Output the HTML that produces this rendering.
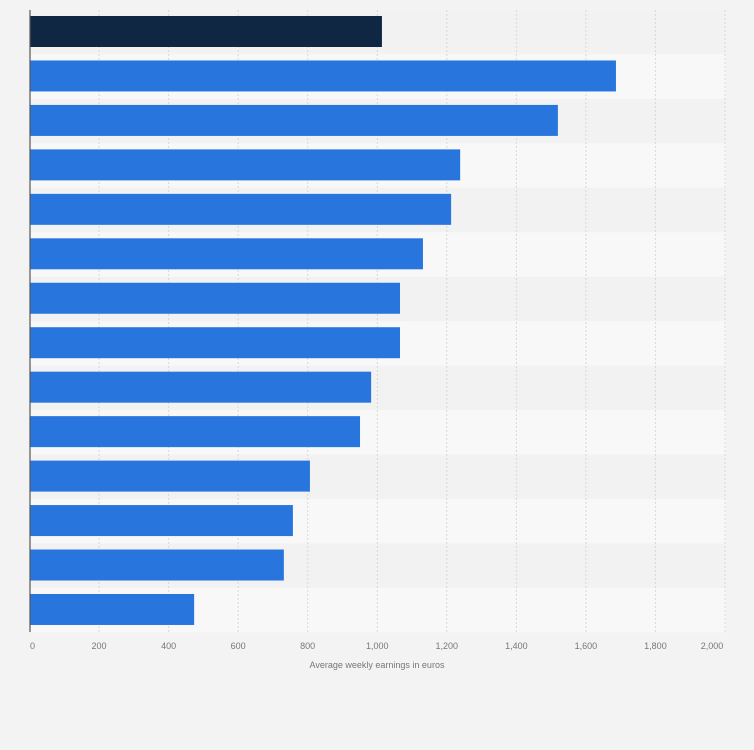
<!DOCTYPE html>
<html><head><style>
body{margin:0;background:#f3f3f3;}
svg{display:block;font-family:"Liberation Sans",sans-serif;}
</style></head><body>
<svg width="754" height="750" xmlns="http://www.w3.org/2000/svg">
<rect width="754" height="750" fill="#f3f3f3"/>
<script>
var ns="http://www.w3.org/2000/svg",svg=document.querySelector('svg');
function el(t,a,txt){var e=document.createElementNS(ns,t);for(var k in a)e.setAttribute(k,a[k]);if(txt)e.textContent=txt;svg.appendChild(e);return e;}
var vals=[1012,1685,1518,1237,1211,1130,1064,1064,981,949,805,756,730,472];
var top0=10,pitch=44.46,x0=29.5,sc=69.55/200;
for(var i=0;i<14;i++){el('rect',{x:30,y:top0+i*pitch,width:696,height:pitch,fill:i%2?'#f8f8f8':'#f2f2f2'});}
for(var t=200;t<=2000;t+=200){var x=x0+t*sc;el('line',{x1:x,y1:10,x2:x,y2:632,stroke:'#d8d8d8','stroke-dasharray':'2,2','stroke-width':1});}
for(var i=0;i<14;i++){el('rect',{x:30,y:top0+6+i*pitch,width:vals[i]*sc,height:31,fill:i==0?'#0f2742':'#2876dd'});}
el('line',{x1:30,y1:10,x2:30,y2:632,stroke:'#555','stroke-width':1.2});
for(var t=0;t<=2000;t+=200){var x=x0+t*sc;if(t==0)x+=3;if(t==2000)x=712;el('text',{x:x,y:649,'font-size':9,fill:'#777','text-anchor':'middle'},t.toLocaleString('en-US'));}
el('text',{x:377,y:668,'font-size':9,fill:'#777','text-anchor':'middle'},'Average weekly earnings in euros');
</script>
</svg>
</body></html>
